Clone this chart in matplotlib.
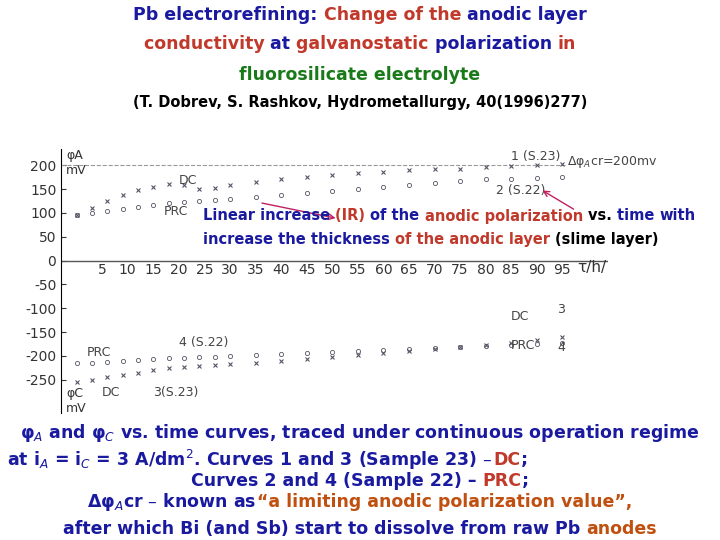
import matplotlib
matplotlib.use("Agg")
import matplotlib.pyplot as plt

t1 = [0, 3, 6, 9, 12, 15, 18, 21, 24, 27, 30, 35, 40, 45, 50, 55, 60, 65, 70, 75, 80, 85, 90, 95]
c1 = [95, 110, 125, 138, 148, 155, 160, 158, 150, 152, 158, 165, 172, 176, 180, 183, 186, 189, 191, 193, 196, 198, 200, 202]
c2 = [95, 100, 104, 108, 112, 116, 120, 122, 124, 127, 130, 134, 138, 142, 146, 150, 154, 158, 162, 166, 170, 172, 174, 176]
c3 = [-255, -250, -245, -240, -235, -230, -226, -224, -222, -220, -218, -214, -210, -206, -202, -198, -194, -190, -186, -182, -178, -172, -166, -160]
c4 = [-215, -214, -212, -210, -208, -206, -205, -204, -203, -202, -200, -198, -196, -194, -192, -190, -188, -186, -184, -182, -180, -178, -175, -172]
xticks = [5, 10, 15, 20, 25, 30, 35, 40, 45, 50, 55, 60, 65, 70, 75, 80, 85, 90, 95]
yticks = [-250, -200, -150, -100, -50, 0, 50, 100, 150, 200]

plt.rcParams['axes.unicode_minus'] = False
fig = plt.figure(figsize=(7.2, 5.4), dpi=100)
ax = fig.add_axes([0.085, 0.235, 0.76, 0.49])
ax.set_xlim(-3, 104)
ax.set_ylim(-320, 235)
for s in ['top', 'right', 'bottom']:
    ax.spines[s].set_visible(False)
ax.axhline(0, color='#555', lw=1)
ax.axhline(200, color='#999', lw=0.8, ls='--', xmax=0.92)
ax.plot(t1, c1, 'x', color='#556', ms=3, mew=0.8)
ax.plot(t1, c2, 'o', color='#556', ms=3, mfc='none', mew=0.6)
ax.plot(t1, c3, 'x', color='#556', ms=3, mew=0.8)
ax.plot(t1, c4, 'o', color='#556', ms=3, mfc='none', mew=0.6)
ax.set_yticks(yticks)
ax.set_xticks([])
ax.tick_params(axis='y', labelsize=10, colors='#333', direction='in')
for x in xticks:
    ax.text(x, -5, str(x), ha='center', va='top', fontsize=10, color='#333')
ax.text(98, -25, 'τ/h/', fontsize=11, color='#333')
ax.text(-2, 235, 'φA\nmV', fontsize=9, color='#333', va='top')
ax.text(-2, -265, 'φC\nmV', fontsize=9, color='#333', va='top')
ax.text(20, 160, 'DC', fontsize=9, color='#444')
ax.text(17, 95, 'PRC', fontsize=9, color='#444')
ax.text(85, 210, '1 (S.23)', fontsize=9, color='#444')
ax.text(82, 140, '2 (S.22)', fontsize=9, color='#444')
ax.text(96, 200, 'Δφ$_A$cr=200mv', fontsize=9, color='#444')
ax.text(85, -125, 'DC', fontsize=9, color='#444')
ax.text(85, -185, 'PRC', fontsize=9, color='#444')
ax.text(94, -110, '3', fontsize=9, color='#444')
ax.text(94, -190, '4', fontsize=9, color='#444')
ax.text(20, -180, '4 (S.22)', fontsize=9, color='#444')
ax.text(2, -200, 'PRC', fontsize=9, color='#444')
ax.text(5, -285, 'DC', fontsize=9, color='#444')
ax.text(15, -285, '3(S.23)', fontsize=9, color='#444')

fig.canvas.draw()
r = fig.canvas.get_renderer()

def line(segs, y, x=None, size=11.5, center=True):
    texts = []
    for s, c in segs:
        texts.append(fig.text(0, y, s, color=c, fontsize=size, fontweight='bold', va='center'))
    ws = [tt.get_window_extent(r).width / fig.bbox.width for tt in texts]
    tot = sum(ws)
    x0 = 0.5 - tot / 2 if center else x
    for tt, w in zip(texts, ws):
        tt.set_x(x0)
        x0 += w

B, R, G, K = '#1a1aa0', '#c0392b', '#1a7a1a', 'black'
O = '#c05010'
line([('Pb electrorefining: ', B), ('Change of the ', R), ('anodic layer', B)], 0.972, size=12.5)
line([('conductivity ', R), ('at ', B), ('galvanostatic ', R), ('polarization ', B), ('in', R)], 0.918, size=12.5)
line([('fluorosilicate electrolyte', G)], 0.862, size=12.5)
line([('(T. Dobrev, S. Rashkov, Hydrometallurgy, 40(1996)277)', K)], 0.81, size=10.5)
line([('Linear increase ', B), ('(IR) ', R), ('of the ', B), ('anodic polarization ', R), ('vs. ', K), ('time ', B), ('with', B)], 0.6, x=0.282, size=10.5, center=False)
line([('increase the thickness ', B), ('of the anodic layer ', R), ('(slime layer)', K)], 0.557, x=0.282, size=10.5, center=False)
fig.add_artist(matplotlib.patches.FancyArrowPatch((0.36, 0.625), (0.47, 0.595), transform=fig.transFigure, arrowstyle='->', color='#c02060', mutation_scale=10))
fig.add_artist(matplotlib.patches.FancyArrowPatch((0.75, 0.65), (0.8, 0.61), transform=fig.transFigure, arrowstyle='<-', color='#c02060', mutation_scale=10))
line([('φ$_A$ and φ$_C$ vs. time curves, traced under continuous operation regime', B)], 0.198, size=12.5)
line([('at i$_A$ = i$_C$ = 3 A/dm$^2$. Curves 1 and 3 (Sample 23) – ', B), ('DC', R), (';', B)], 0.149, x=0.01, size=12.5, center=False)
line([('Curves 2 and 4 (Sample 22) – ', B), ('PRC', R), (';', B)], 0.11, size=12.5)
line([('Δφ$_A$cr – known as ', B), ('“a limiting anodic polarization value”,', O)], 0.07, size=12.5)
line([('after which Bi (and Sb) start to dissolve from raw Pb ', B), ('anodes', O)], 0.02, size=12.5)
fig.savefig('out.png', dpi=100)
